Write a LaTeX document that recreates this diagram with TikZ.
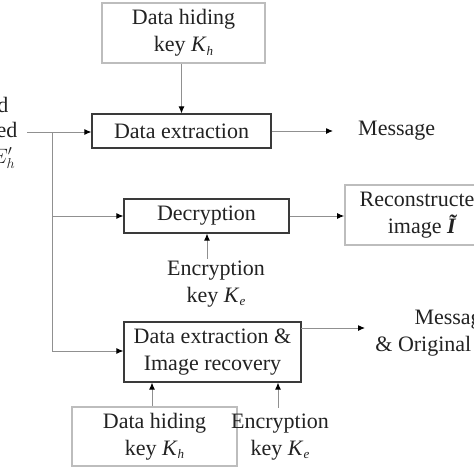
\documentclass[tikz,border=0pt]{standalone}
\usepackage{fontspec}
\setmainfont{Liberation Serif}
\usetikzlibrary{arrows.meta,calc}
\definecolor{txt}{HTML}{222222}
\definecolor{conn}{HTML}{909090}
\definecolor{keyb}{HTML}{BDBDBD}
\definecolor{mainb}{HTML}{3A3A3A}
\newcommand{\subit}[1]{\raisebox{-0.35ex}{\fontsize{13}{14}\selectfont\textit{#1}}}
\begin{document}
\begin{tikzpicture}[x=1pt,y=-1pt,
  every node/.style={font=\fontsize{22}{27}\selectfont, text=txt, inner sep=0pt},
  mainbox/.style={draw=mainb, line width=1.1pt, rectangle, align=center},
  keybox/.style={draw=keyb, line width=1.6pt, rectangle, align=center},
  plain/.style={align=center},
  conline/.style={draw=conn, line width=1pt},
  arr/.style={conline, -{Latex[length=7pt,width=6pt,color=black]}}
]
\useasboundingbox (0,0) rectangle (474,474);
\clip (0,0) rectangle (474,474);
% left partial labels
\node[anchor=east] (l1) at (8.5,105) {Marked};
\node[anchor=east] (l2) at (17.5,132) {encrypted};
\node[anchor=east] (l3) at (15.5,158) {image $E'_h$};
% boxes
\node[keybox, minimum width=163pt, minimum height=60pt] (kh1) at (183.5,33) {Data hiding\\key \textit{K}\subit{h}};
\node[mainbox, minimum width=179pt, minimum height=34pt] (dex) at (181.5,131) {Data extraction};
\node[plain, anchor=west] (msg) at (358,131) {Message};
\node[mainbox, minimum width=165pt, minimum height=34pt] (dec) at (206.5,216) {Decryption};
\node[plain] (ke1) at (216,284) {Encryption\\key \textit{K}\subit{e}};
\node[keybox, minimum width=155pt, minimum height=60pt] (rec) at (422.5,215) {Reconstructed\\image \textbf{\textit{\~I}}};
\node[mainbox, minimum width=177pt, minimum height=60pt] (dir) at (212.5,352) {Data extraction \&\\Image recovery};
\node[plain] (mo) at (453,333) {Message\\\& Original image};
\node[keybox, minimum width=165pt, minimum height=59pt] (kh2) at (154.5,436.5) {Data hiding\\key \textit{K}\subit{h}};
\node[plain] (ke2) at (280,437) {Encryption\\key \textit{K}\subit{e}};
% coordinates
\coordinate (in) at (27,132);
\coordinate (split) at (52,132);
\coordinate (b1) at (52,216);
\coordinate (b2) at (52,351);
\coordinate (msgend) at (333,131);
\coordinate (dirout) at (301,328);
\coordinate (moend) at (365,328);
% connectors
\draw[arr] (kh1.south -| dex.north) -- (dex.north);
\draw[arr] (in) -- (in -| dex.west);
\draw[conline] (split) -- (b2);
\draw[arr] (b1) -- (b1 -| dec.west);
\draw[arr] (b2) -- (b2 -| dir.west);
\draw[arr] (dex.east) -- (msgend);
\draw[arr] (dec.east) -- (dec.east -| rec.west);
\draw[arr] ([xshift=-9pt]ke1.north) ++(0,-2) -- ([xshift=-9pt]ke1.north |- dec.south);
\draw[arr] (dirout) -- (moend);
\draw[arr] ([xshift=-2.5pt]kh2.north) -- ([xshift=-2.5pt]kh2.north |- dir.south);
\draw[arr] ([xshift=-2pt]ke2.north) ++(0,-6) -- ([xshift=-2pt]ke2.north |- dir.south);
\end{tikzpicture}
\end{document}
